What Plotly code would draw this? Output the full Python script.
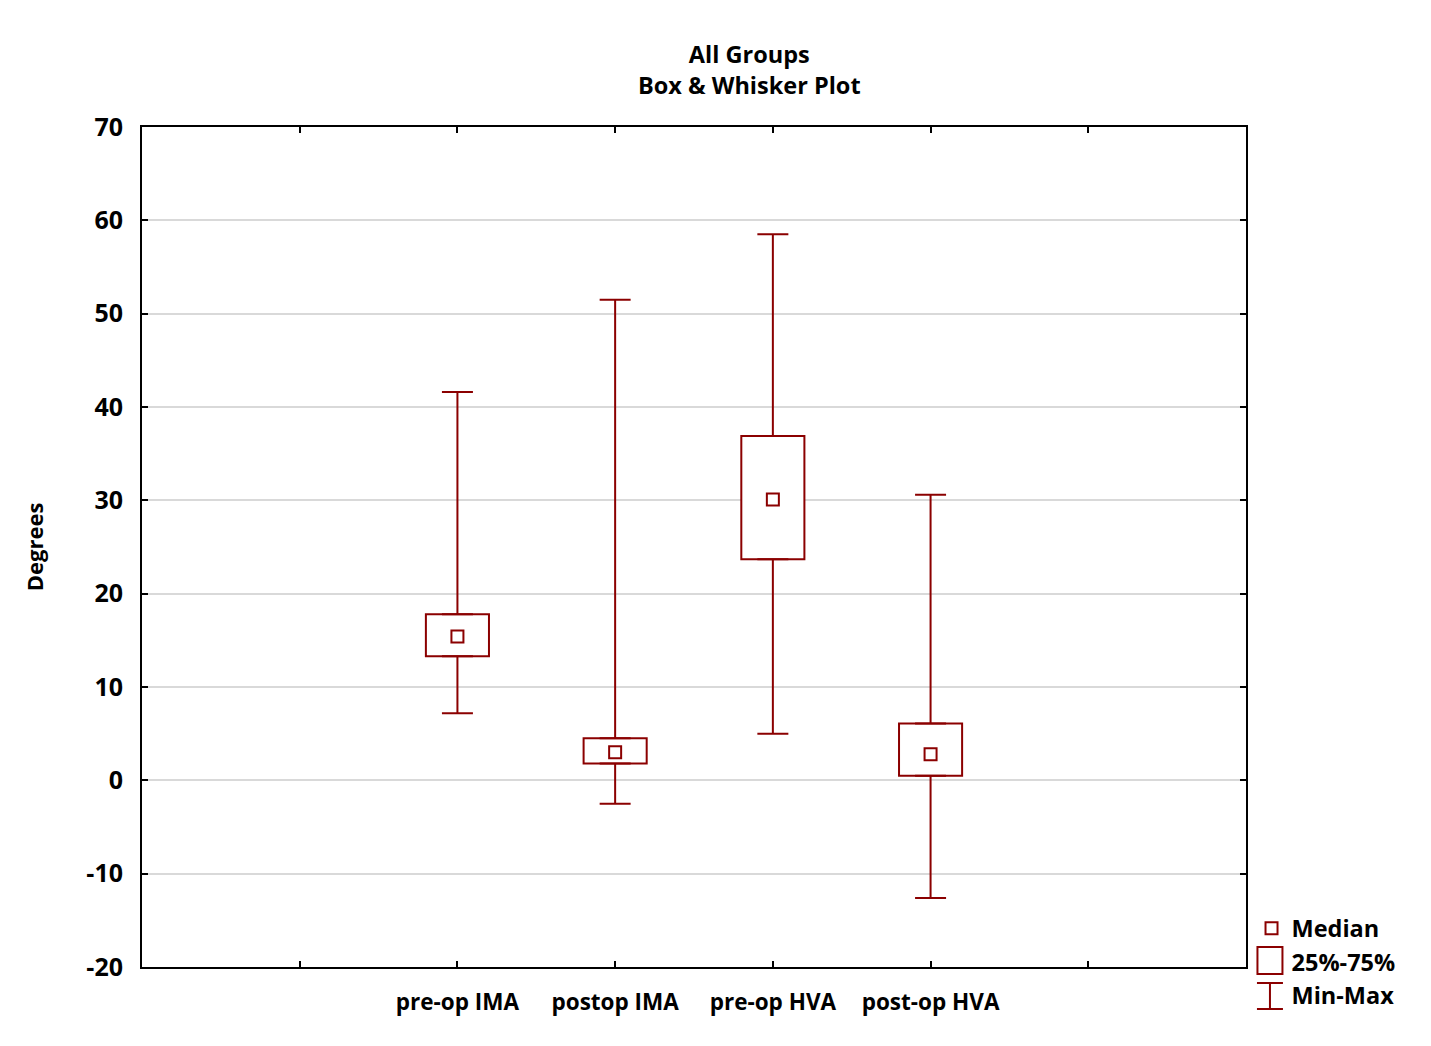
import plotly.graph_objects as go

# Box & whisker summary values (degrees).
groups = ["pre-op IMA", "postop IMA", "pre-op HVA", "post-op HVA"]
positions = [2, 3, 4, 5]
minimum = [7.2, -2.5, 5.0, -12.6]
q1 = [13.3, 1.8, 23.7, 0.5]
median = [15.4, 3.0, 30.1, 2.8]
q3 = [17.8, 4.5, 36.9, 6.1]
maximum = [41.6, 51.5, 58.5, 30.6]

x_tick_positions = [1, 2, 3, 4, 5, 6]
x_tick_labels = ["", "pre-op IMA", "postop IMA", "pre-op HVA", "post-op HVA", ""]
y_tick_values = [-20, -10, 0, 10, 20, 30, 40, 50, 60, 70]
y_tick_labels = ["-20", "-10", "0", "10", "20", "30", "40", "50", "60", "70"]

red = "#8b0000"
font = "Open Sans"
clear = "rgba(0,0,0,0)"

fig = go.Figure()

# Upper whiskers (from Q3 up to max).
fig.add_trace(go.Scatter(
    x=positions, y=q3, mode="markers", marker=dict(size=1, opacity=0),
    error_y=dict(type="data", symmetric=False,
                 array=[hi - b for hi, b in zip(maximum, q3)],
                 arrayminus=[0] * len(q3),
                 color=red, thickness=2, width=15.5),
    showlegend=False, hoverinfo="skip"))

# Lower whiskers (from Q1 down to min).
fig.add_trace(go.Scatter(
    x=positions, y=q1, mode="markers", marker=dict(size=1, opacity=0),
    error_y=dict(type="data", symmetric=False,
                 array=[0] * len(q1),
                 arrayminus=[b - lo for b, lo in zip(q1, minimum)],
                 color=red, thickness=2, width=15.5),
    showlegend=False, hoverinfo="skip"))

# 25%-75% boxes.
fig.add_trace(go.Bar(
    x=positions, y=[t - b for t, b in zip(q3, q1)], base=q1, width=0.4,
    marker=dict(color="white", line=dict(color=red, width=2)),
    name="25%-75%", showlegend=False))

# Medians.
fig.add_trace(go.Scatter(
    x=positions, y=median, mode="markers",
    marker=dict(symbol="square-open", size=12, color=red, line=dict(width=2)),
    name="Median", showlegend=False))

# Legend entries (the larger glyphs are drawn as pixel-sized shapes below).
fig.add_trace(go.Scatter(
    x=[None], y=[None], mode="markers", name="Median",
    marker=dict(symbol="square-open", size=12, color=red, line=dict(width=2))))
fig.add_trace(go.Scatter(
    x=[None], y=[None], mode="markers", name="25%-75%",
    marker=dict(size=1, color=clear, line=dict(width=0, color=clear))))
fig.add_trace(go.Scatter(
    x=[None], y=[None], mode="markers", name="Min-Max",
    marker=dict(size=1, color=clear, line=dict(width=0, color=clear))))

# Box glyph for 25%-75%.
fig.add_shape(
    type="path", xref="paper", yref="paper", xsizemode="pixel", ysizemode="pixel",
    xanchor=1.0217, yanchor=0.0077,
    path="M-12.5,-13.5 H12.5 V13.5 H-12.5 Z",
    line=dict(color=red, width=2))

# I-beam glyph for Min-Max.
fig.add_shape(
    type="path", xref="paper", yref="paper", xsizemode="pixel", ysizemode="pixel",
    xanchor=1.0217, yanchor=-0.0345,
    path="M-13,-13 H13 M0,-13 V13 M-13,13 H13",
    line=dict(color=red, width=2))

fig.update_layout(
    width=1431, height=1046,
    margin=dict(l=134, r=193, t=119, b=87),
    paper_bgcolor="white", plot_bgcolor="white",
    font=dict(family=font, size=22, color="black", weight="bold"),
    title=dict(text="All Groups<br>Box & Whisker Plot", x=0.518, xanchor="center",
               y=0.947, yanchor="middle",
               font=dict(family=font, size=23.5, color="black", weight="bold")),
    barmode="overlay",
    legend=dict(x=1.005, xanchor="left", y=-0.06, yanchor="bottom",
                font=dict(family=font, size=23.5, weight="bold"),
                tracegroupgap=0, itemsizing="trace", bgcolor="rgba(0,0,0,0)"),
)

fig.update_xaxes(
    range=[0, 7], tickmode="array", tickvals=x_tick_positions, ticktext=x_tick_labels,
    ticks="inside", ticklen=6, tickwidth=2, tickcolor="black",
    showline=True, linecolor="black", linewidth=2, mirror="ticks",
    showgrid=False, zeroline=False, tickfont=dict(size=22.5), ticklabelstandoff=14)

fig.update_yaxes(
    range=[-20, 70], tickmode="array", tickvals=y_tick_values, ticktext=y_tick_labels,
    title=dict(text="Degrees", font=dict(size=22), standoff=37),
    ticks="inside", ticklen=6, tickwidth=2, tickcolor="black",
    showline=True, linecolor="black", linewidth=2, mirror="ticks",
    showgrid=True, gridcolor="#d9d9d9", gridwidth=2, zeroline=False,
    tickfont=dict(size=25), ticklabelstandoff=12)

fig.write_html("out.html")
